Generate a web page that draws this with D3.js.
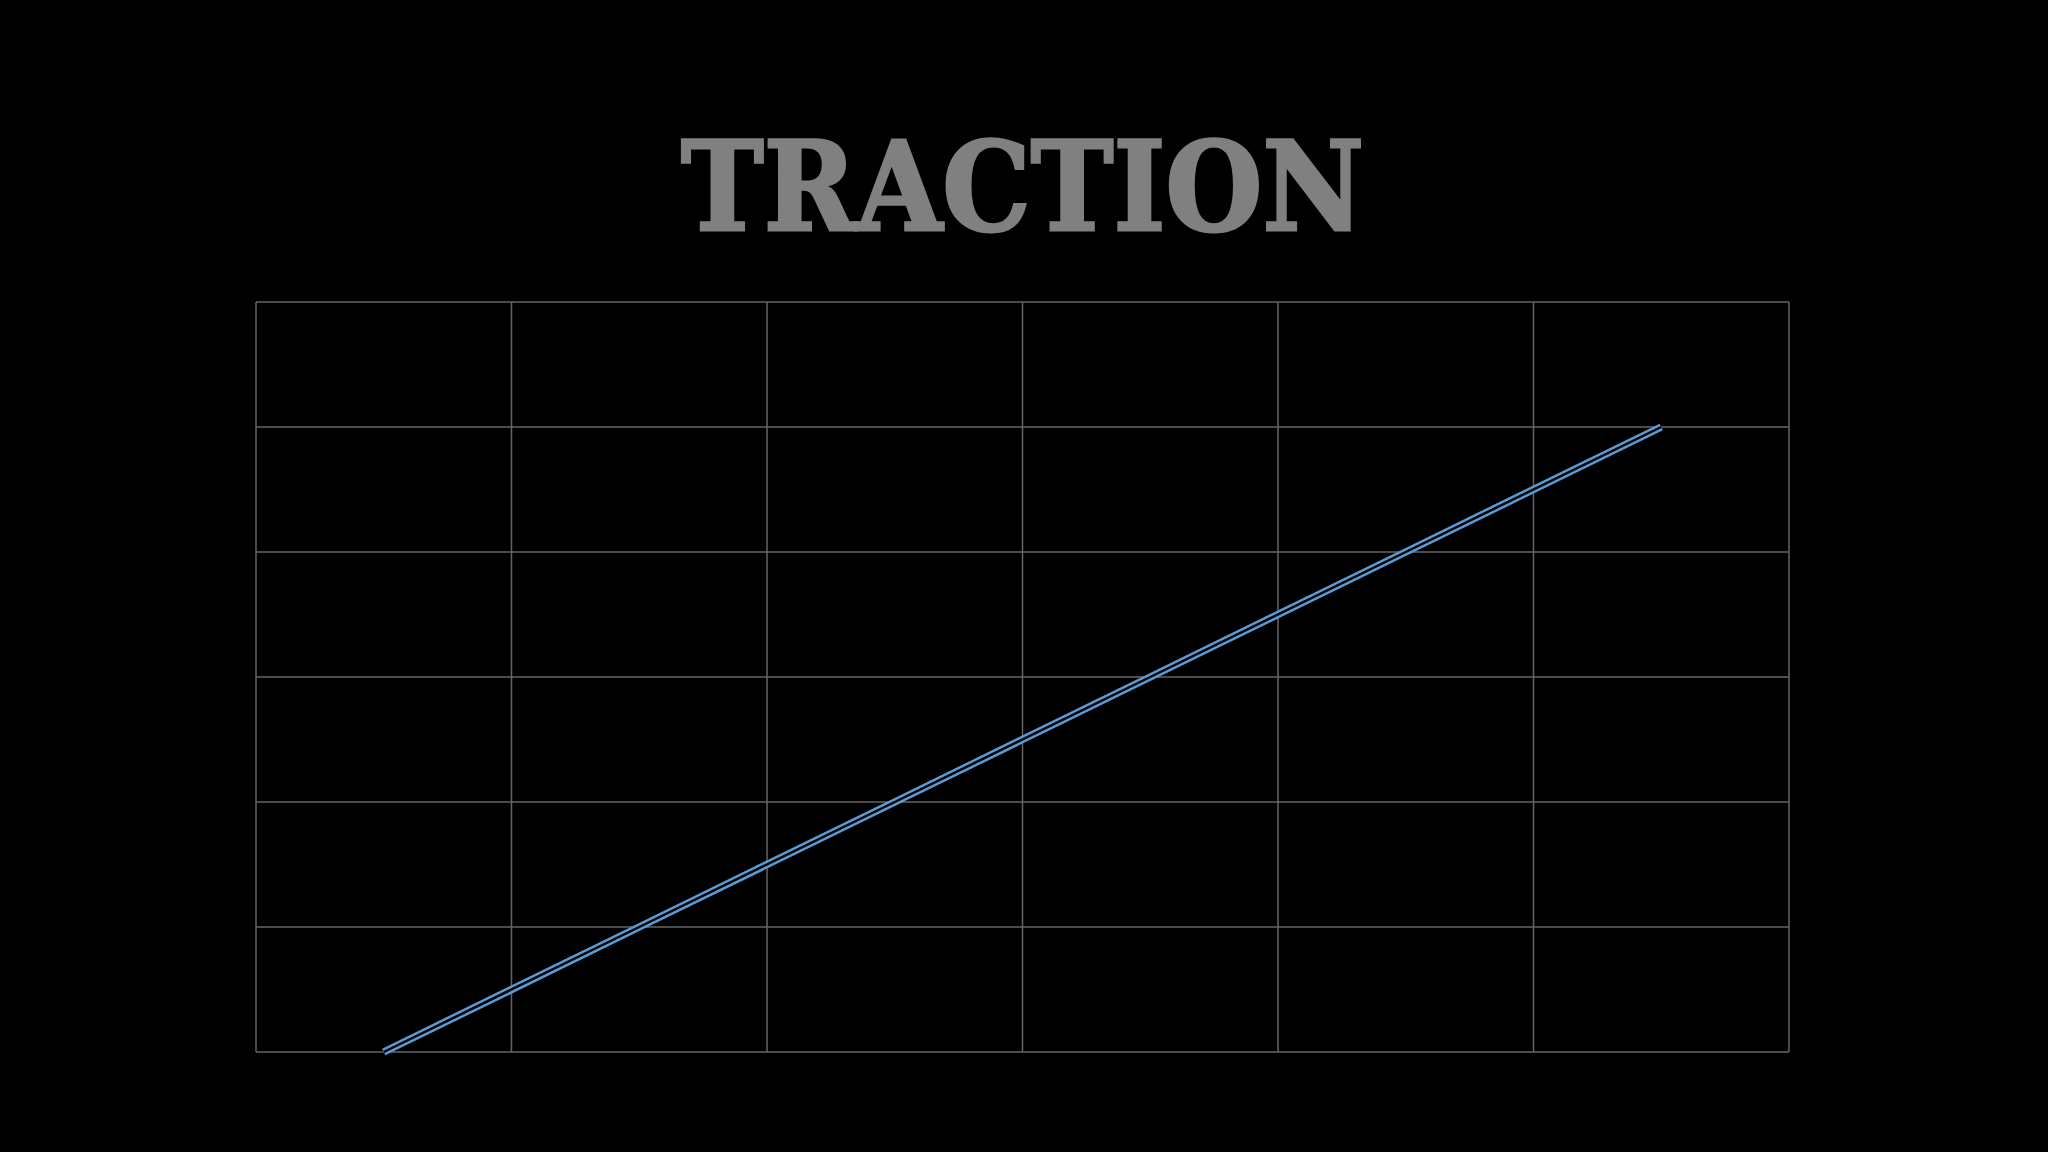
<!DOCTYPE html>
<html>
<head>
<meta charset="utf-8">
<script src="https://cdn.jsdelivr.net/npm/d3@7"></script>
<style>
  html, body { margin: 0; padding: 0; background: #000; }
</style>
</head>
<body>
<div id="chart"></div>
<script>
// chart data
const categories = ["1", "2", "3", "4", "5", "6"];
const values = [0, 1, 2, 3, 4, 5];
const yTicks = [0, 1, 2, 3, 4, 5, 6];
const titleText = "TRACTION";

const W = 2048, H = 1152;
const margin = { top: 302, right: 259, bottom: 100, left: 256 };
const width = W - margin.left - margin.right,
  height = H - margin.top - margin.bottom;

const svg = d3.select("#chart")
  .append("svg")
  .attr("width", W)
  .attr("height", H)
  .style("background", "#000");

// title
svg.append("text")
  .attr("x", margin.left + width / 2)
  .attr("y", 230)
  .attr("text-anchor", "middle")
  .attr("font-family", "'DejaVu Serif', 'Liberation Serif', serif")
  .attr("font-weight", "bold")
  .attr("font-size", 124)
  .attr("textLength", 683)
  .attr("lengthAdjust", "spacingAndGlyphs")
  .attr("fill", "#808080")
  .attr("stroke", "#808080")
  .attr("stroke-width", 3)
  .text(titleText);

const g = svg.append("g")
  .attr("transform", "translate(" + margin.left + "," + margin.top + ")");

const xScale = d3.scaleBand().domain(categories).range([0, width]).padding(0);
const yScale = d3.scaleLinear().domain([0, 6]).range([height, 0]);

// vertical grid lines (category boundaries)
const xEdges = categories.map(c => xScale(c)).concat([width]);
g.selectAll(".vgrid")
  .data(xEdges)
  .enter().append("line")
  .attr("class", "vgrid")
  .attr("x1", d => d).attr("x2", d => d)
  .attr("y1", 0).attr("y2", height)
  .attr("stroke", "#646464")
  .attr("stroke-width", 1.5);

// horizontal grid lines
g.selectAll(".hgrid")
  .data(yTicks)
  .enter().append("line")
  .attr("class", "hgrid")
  .attr("x1", 0).attr("x2", width)
  .attr("y1", d => yScale(d)).attr("y2", d => yScale(d))
  .attr("stroke", "#646464")
  .attr("stroke-width", 1.5);

const line = d3.line()
  .x((d, i) => xScale(categories[i]) + xScale.bandwidth() / 2)
  .y(d => yScale(d));

// double (compound) line: wide blue stroke with black core
g.append("path")
  .datum(values)
  .attr("d", line)
  .attr("fill", "none")
  .attr("stroke", "#5b9bd5")
  .attr("stroke-width", 7.5);

g.append("path")
  .datum(values)
  .attr("d", line)
  .attr("fill", "none")
  .attr("stroke", "#000")
  .attr("stroke-width", 2.5);
</script>
</body>
</html>
